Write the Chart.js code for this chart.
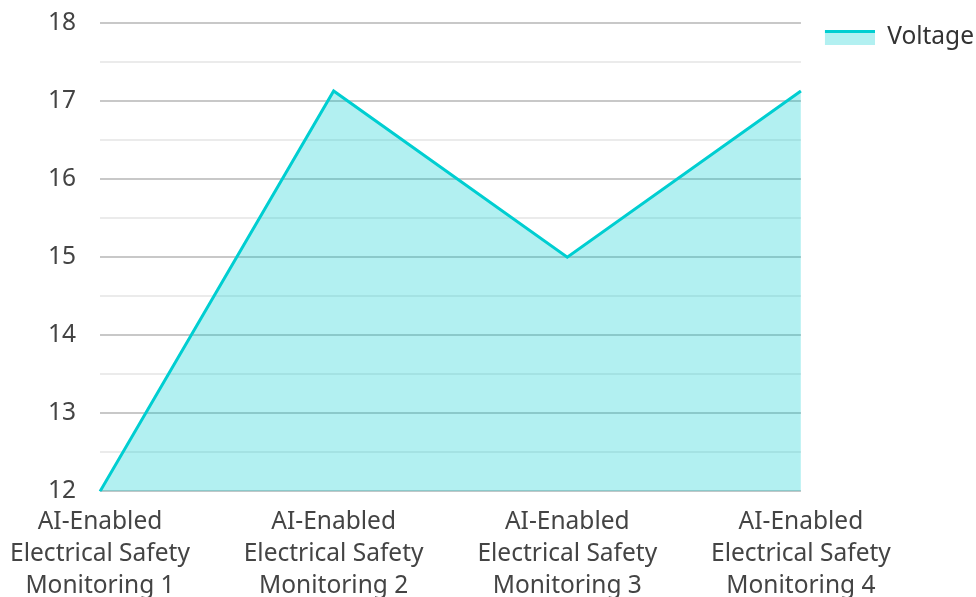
<!DOCTYPE html>
<html>
<head>
<meta charset="utf-8">
<script src="https://cdn.jsdelivr.net/npm/chart.js@4/dist/chart.umd.min.js"></script>
<style>
  html, body { margin: 0; padding: 0; background: #fff; }
  #wrap { width: 976px; height: 597px; }
</style>
</head>
<body>
<div id="wrap"><canvas id="chart"></canvas></div>
<script>
const categories = [
    ['AI-Enabled', 'Electrical Safety', 'Monitoring 1'],
    ['AI-Enabled', 'Electrical Safety', 'Monitoring 2'],
    ['AI-Enabled', 'Electrical Safety', 'Monitoring 3'],
    ['AI-Enabled', 'Electrical Safety', 'Monitoring 4']
];
const voltage = [12, 17.13, 15, 17.13];
const yTicks = [12, 13, 14, 15, 16, 17, 18];

const lineColor = '#00CED1';
const fillColor = 'rgba(0, 206, 209, 0.3)';
const textColor = '#444';

// legend swatch: thick line on top of a filled strip (transparent lead-in on the left)
function makeSwatch() {
    const c = document.createElement('canvas');
    c.width = 72;
    c.height = 15;
    const g = c.getContext('2d');
    g.fillStyle = fillColor;
    g.fillRect(22, 0, 50, 15);
    g.fillStyle = lineColor;
    g.fillRect(22, 0, 50, 3);
    return c;
}

Chart.defaults.font.family = '"Noto Sans", "Open Sans", sans-serif';
Chart.defaults.font.size = 24.5;
Chart.defaults.color = textColor;

const ctx = document.getElementById('chart').getContext('2d');
new Chart(ctx, {
    type: 'line',
    data: {
        labels: categories,
        datasets: [{
            label: 'Voltage',
            data: voltage,
            borderColor: lineColor,
            backgroundColor: fillColor,
            borderWidth: 3,
            fill: 'origin',
            tension: 0,
            pointRadius: 0,
            pointHoverRadius: 0
        }]
    },
    options: {
        responsive: true,
        maintainAspectRatio: false,
        animation: false,
        layout: {
            padding: { left: 0, right: -8, top: 0, bottom: -12 }
        },
        plugins: {
            legend: {
                position: 'right',
                align: 'start',
                title: {
                    display: true,
                    text: ' ',
                    font: { size: 1 },
                    padding: { top: 22, bottom: 0 }
                },
                labels: {
                    usePointStyle: true,
                    pointStyleWidth: 72,
                    padding: 2,
                    color: '#333',
                    generateLabels: function(chart) {
                        return [{
                            text: 'Voltage',
                            pointStyle: makeSwatch(),
                            fillStyle: fillColor,
                            strokeStyle: lineColor,
                            lineWidth: 0,
                            datasetIndex: 0,
                            fontColor: '#333'
                        }];
                    }
                }
            },
            tooltip: { enabled: false }
        },
        scales: {
            x: {
                offset: false,
                grid: { display: false },
                border: { display: false },
                afterFit: function(scale) {
                    scale.paddingLeft = 100;
                },
                ticks: {
                    maxRotation: 0,
                    autoSkip: false,
                    padding: 7,
                    font: { lineHeight: 1.3 }
                }
            },
            y: {
                min: 12,
                max: 18,
                border: { display: false },
                afterFit: function(scale) {
                    scale.paddingTop = 23;
                },
                grid: {
                    drawTicks: false,
                    lineWidth: 2,
                    color: function(c) {
                        const v = c.tick ? c.tick.value : 0;
                        return Number.isInteger(v) ? '#c8c8c8' : '#ebebeb';
                    }
                },
                ticks: {
                    stepSize: 0.5,
                    padding: 24,
                    callback: function(v) {
                        return yTicks.includes(v) ? String(v) : '';
                    }
                }
            }
        }
    }
});
</script>
</body>
</html>
